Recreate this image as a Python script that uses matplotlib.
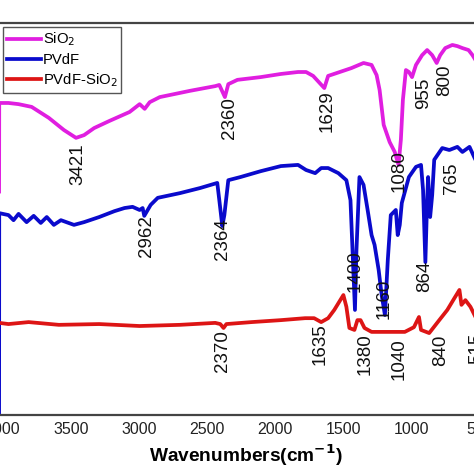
import matplotlib
matplotlib.use("Agg")
import matplotlib.pyplot as plt

plt.rcParams['font.family'] = ['Liberation Sans', 'DejaVu Sans']

# ---- data (wavenumber cm^-1, transmittance a.u.) ----
sio2_wn = [4028, 4027, 3959, 3885, 3789, 3663, 3552, 3463, 3404, 3330, 3219, 3070,
           2996, 2959, 2922, 2848, 2626, 2441, 2411, 2370, 2345, 2278, 2107, 1959,
           1833, 1774, 1722, 1640, 1612, 1552, 1441, 1352, 1293, 1256, 1234, 1204,
           1160, 1123, 1095, 1078, 1063, 1041, 1019, 996, 967, 922, 885, 848, 815,
           789, 752, 700, 663, 626, 581, 552, 522, 493]
sio2_t = [57.0, 79.6, 79.6, 79.3, 78.6, 75.8, 72.7, 70.7, 71.4, 73.2, 75.0, 77.3,
          79.3, 78.1, 79.8, 81.1, 82.7, 83.9, 84.2, 81.1, 84.4, 85.5, 86.2, 87.0,
          87.5, 87.5, 86.5, 83.4, 86.5, 87.2, 88.5, 89.8, 89.3, 86.7, 82.9, 74.0,
          69.6, 67.1, 63.8, 70.2, 80.4, 88.0, 87.5, 86.2, 89.3, 91.8, 93.1, 91.8, 89.8,
          91.8, 93.6, 94.4, 94.1, 93.6, 93.1, 91.8, 90.1, 84.2]

pvdf_wn = [4028, 4027, 3959, 3922, 3885, 3826, 3774, 3722, 3678, 3626, 3574, 3478,
           3404, 3293, 3181, 3107, 3048, 2996, 2974, 2962, 2915, 2863, 2700, 2552,
           2426, 2411, 2389, 2374, 2345, 2256, 2107, 1959, 1833, 1774, 1707, 1663,
           1612, 1537, 1478, 1448, 1433, 1415, 1404, 1382, 1352, 1322, 1293, 1271,
           1241, 1219, 1195, 1174, 1152, 1115, 1101, 1086, 1071, 1019, 967, 930,
           915, 898, 885, 878, 863, 848, 833, 774, 722, 663, 626, 574, 537, 493]
pvdf_t = [0.0, 51.5, 51.0, 49.7, 51.3, 49.2, 50.8, 49.0, 50.5, 48.5, 49.7, 48.5,
          49.2, 50.5, 52.0, 52.8, 53.1, 52.3, 52.8, 50.8, 53.6, 55.4, 56.6, 57.9,
          59.2, 54.8, 48.2, 51.0, 59.9, 60.7, 62.2, 63.5, 63.8, 62.5, 61.7, 63.0,
          63.0, 61.7, 59.9, 54.8, 42.1, 26.8, 42.1, 60.7, 58.7, 52.3, 45.9, 43.4,
          37.0, 30.6, 25.5, 39.5, 51.0, 52.3, 45.9, 48.5, 54.1, 60.7, 63.3, 63.8,
          57.4, 39.0, 54.8, 60.7, 50.5, 56.1, 65.1, 68.1, 67.6, 68.4, 67.1, 68.4, 65.6, 62.5]

comp_wn = [4026, 3959, 3811, 3589, 3293, 2996, 2700, 2441, 2404, 2380, 2359, 2174,
           1959, 1781, 1715, 1663, 1612, 1567, 1500, 1478, 1456, 1419, 1397, 1374,
           1345, 1293, 1049, 982, 945, 930, 870, 796, 737, 685, 648, 633, 604, 567,
           530, 493]
comp_t = [23.5, 23.2, 23.7, 23.0, 23.2, 22.7, 23.0, 23.5, 23.2, 22.2, 23.2, 23.7,
          24.2, 24.7, 24.7, 23.7, 24.7, 26.8, 30.6, 27.6, 22.2, 21.7, 24.2, 24.2,
          22.2, 21.2, 21.2, 22.4, 25.0, 21.7, 20.9, 24.2, 26.8, 29.8, 31.9, 28.1,
          29.3, 27.6, 25.0, 23.0]

series_names = ['SiO$_2$', 'PVdF', 'PVdF-SiO$_2$']

# peak labels: text, wavenumber, top of text (a.u.)
sio2_peaks = [('3421', 3450, 69.4), ('2360', 2333, 81.1), ('1629', 1620, 82.9),
              ('1080', 1092, 67.6), ('955', 909, 86.0), ('800', 754, 89.3)]
pvdf_peaks = [('2962', 2942, 51.0), ('2364', 2391, 50.3), ('1400', 1415, 42.1),
              ('1160', 1202, 34.9), ('864', 901, 39.5), ('765', 703, 64.3)]
comp_peaks = [('2370', 2384, 21.7), ('1635', 1672, 23.5), ('1380', 1342, 20.9),
              ('1040', 1092, 19.6), ('840', 784, 20.4), ('515', 520, 20.9)]

x_ticks = [4000, 3500, 3000, 2500, 2000, 1500, 1000, 500]

# ---- figure ----
fig = plt.figure(figsize=(4.74, 4.74), dpi=100)
W = 474.0
ax = fig.add_axes([-2.55 / W, 59 / W, 495.75 / W, 392 / W])

c_sio2 = '#E01EE0'
c_pvdf = '#0A0ACC'
c_comp = '#DD1515'
lw = 2.7
l1, = ax.plot(sio2_wn, sio2_t, color=c_sio2, lw=lw, solid_joinstyle='round')
l2, = ax.plot(pvdf_wn, pvdf_t, color=c_pvdf, lw=lw, solid_joinstyle='round')
l3, = ax.plot(comp_wn, comp_t, color=c_comp, lw=lw, solid_joinstyle='round')

ax.set_xlim(4040, 400)
ax.set_ylim(0, 100)
ax.set_xticks(x_ticks)
ax.set_xticklabels([str(t) for t in x_ticks])
ax.set_yticks([])
ax.tick_params(axis='x', length=0, pad=5, labelsize=11.5, colors='#222222')
for s in ax.spines.values():
    s.set_linewidth(1.6)
    s.set_color('#444444')

ax.set_xlabel('Wavenumbers(cm$^{\\mathbf{-1}}$)', fontsize=13.8, fontweight='bold', labelpad=4)

for peaks in (sio2_peaks, pvdf_peaks, comp_peaks):
    for txt, wn, top in peaks:
        ax.text(wn, top, txt, rotation=90, ha='center', va='top', fontsize=13.5,
                color='#111111', clip_on=False)

leg = ax.legend([l1, l2, l3], series_names, loc='upper left',
                bbox_to_anchor=(3 / W, 1 - 27 / W), bbox_transform=fig.transFigure,
                borderaxespad=0, fontsize=10.7, handlelength=2.3, handletextpad=0.15,
                labelspacing=0.3, borderpad=0.25, fancybox=False, framealpha=1)
leg.get_frame().set_edgecolor('#555555')
leg.get_frame().set_linewidth(1.0)

fig.savefig('out.png', dpi=100)
